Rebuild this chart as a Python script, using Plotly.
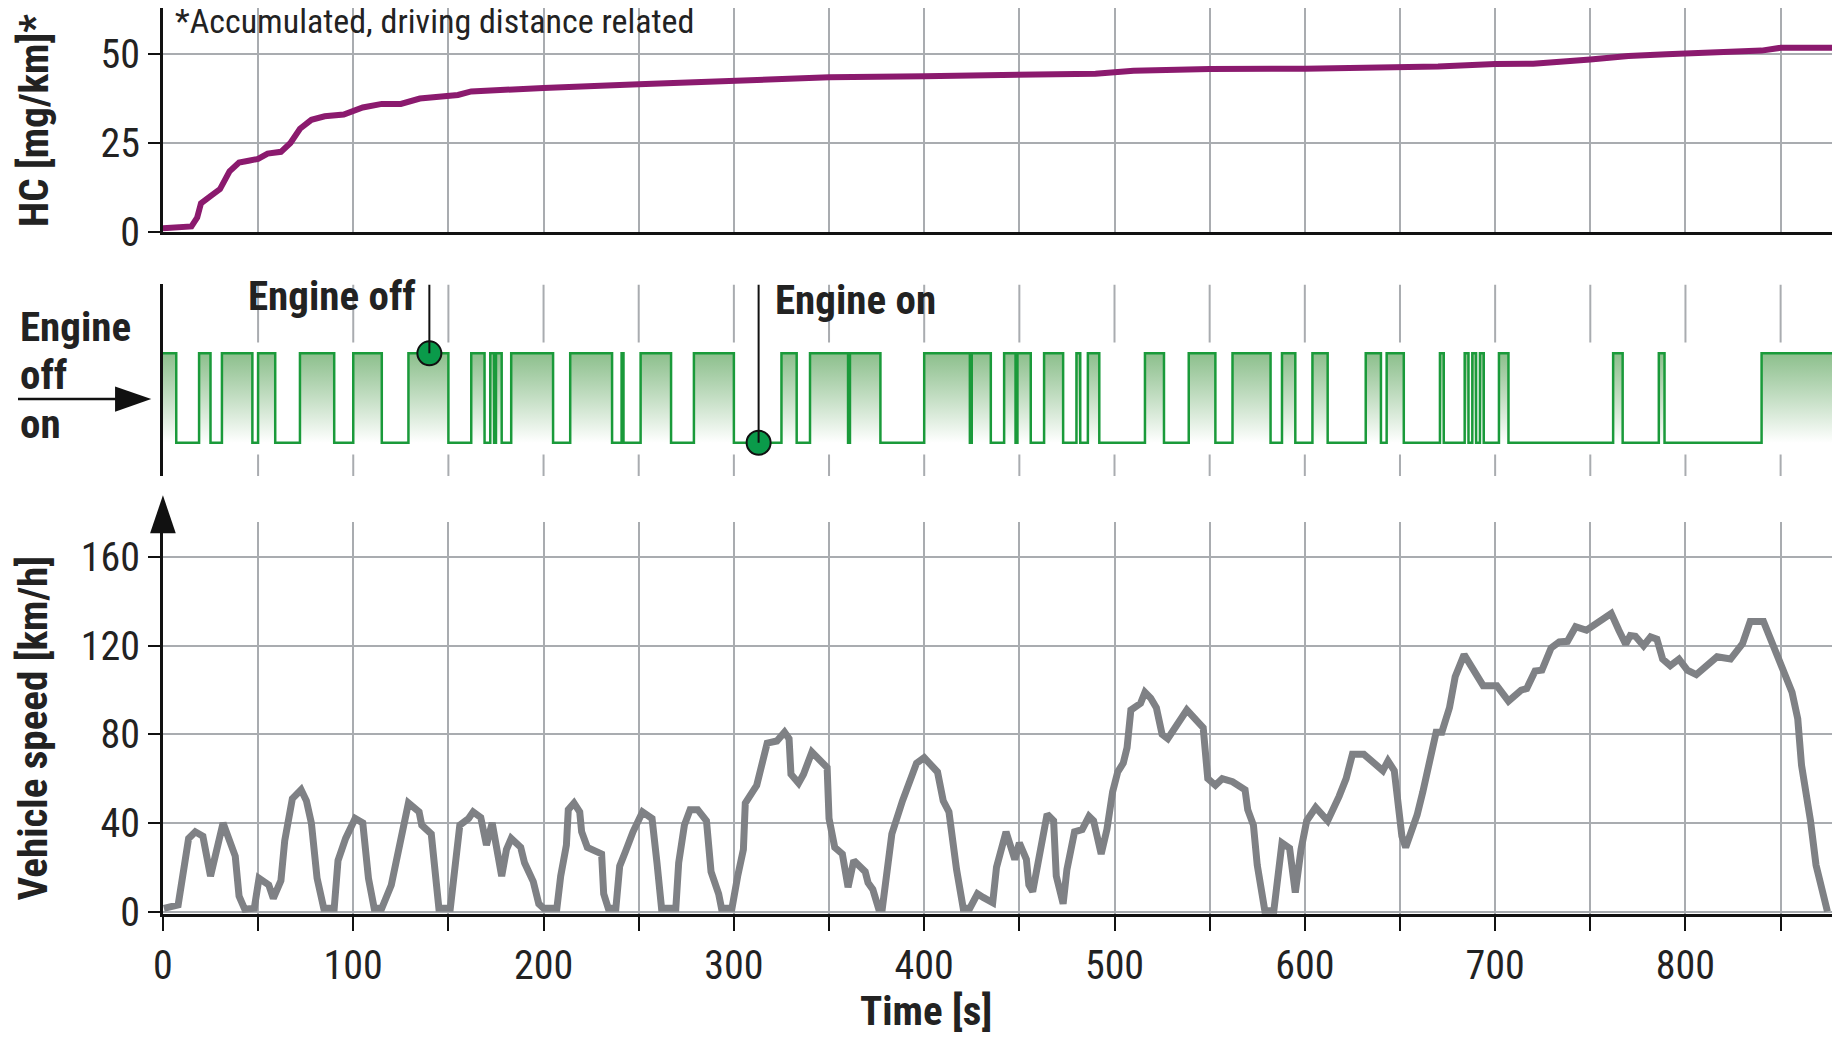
import plotly.graph_objects as go

# ---------------- data ----------------
hc_t = [0, 15, 18, 20, 25, 30, 35, 40, 45, 50, 55, 62, 67, 72, 78, 85, 95, 105, 115, 125, 135, 145, 155, 162, 180,
        200, 250, 300, 320, 350, 400, 450, 490, 510, 550, 600, 650, 670, 700, 720, 750, 770, 790, 830, 840, 850, 878]
hc_v = [1, 1.5, 4, 8, 10, 12, 17, 19.5, 20, 20.5, 22, 22.5, 25, 29, 31.5, 32.5, 33, 35, 36, 36, 37.5, 38, 38.5, 39.5, 40,
        40.5, 41.5, 42.5, 43, 43.5, 43.8, 44, 44.5, 45.3, 45.8, 45.9, 46.3, 46.5, 47.2, 47.3, 48.5, 49.5, 50, 50.5, 51, 51.8, 51.8]

engine_off_intervals = [(0, 7), (19, 25), (31, 47), (50, 59), (72, 90), (100, 115), (129, 150), (162, 169), (172, 174),
                        (175, 178), (183, 205), (214, 236), (241, 242), (251, 267), (279, 300), (325, 333), (340, 360),
                        (361, 377), (400, 424), (425, 435), (442, 448), (449, 456), (463, 473), (480, 482), (486, 492),
                        (516, 526), (539, 553), (562, 582), (588, 595), (604, 612), (632, 640), (643, 652), (671, 673),
                        (684, 686), (688, 690), (692, 694), (702, 707), (762, 767), (786, 789), (840, 878)]

sp_t = [0.5, 8, 13.5, 17, 21, 25, 31.6, 38, 40, 43, 48, 50.5, 55.6, 58, 62, 64, 68, 72.6, 75.4, 78, 81, 84.5, 90, 92, 96,
        101, 105, 108, 111, 115, 120, 126, 129, 134.6, 136, 141, 143, 145, 151, 154, 156, 160.6, 163, 167, 170, 173, 176.5,
        178, 180.5, 183, 188, 190, 194.6, 197.5, 200, 207, 209, 212, 213, 216, 219, 220, 223, 230.5, 231.6, 234, 238, 240,
        243, 247, 252, 257, 259.6, 262, 269.5, 271, 274, 277, 281, 285.6, 288, 292, 293.5, 299, 302, 305, 306, 312, 317.5,
        322.6, 326.6, 329, 330, 334, 336.6, 341, 349, 350, 353, 357, 360, 363, 369, 370.5, 373, 376, 378, 383, 388.6, 389.5,
        396, 400, 407, 410, 413, 417, 420.5, 424, 428, 431, 436, 438, 443, 447.6, 450, 453.7, 455, 457, 461, 464.6, 468,
        469.4, 473, 475, 479, 483, 486.6, 489, 493, 496, 499, 501.7, 504.6, 506.6, 508.6, 513.7, 516, 519, 522, 525, 528,
        538, 546.6, 549, 553, 556.6, 562, 568.6, 570, 573, 575, 577, 579, 583.7, 588, 592, 595, 598, 601, 605.7, 612, 618,
        621.7, 625, 631, 641, 643.7, 647, 651, 653, 659, 662, 666.6, 669, 672, 676, 679, 683.7, 693.7, 700.9, 707, 713.7,
        716.6, 721, 724.6, 729.4, 733.7, 738, 742.3, 748, 756.6, 761, 765, 768.6, 771, 773.7, 778, 781.7, 785, 788, 792,
        796.6, 801, 805.7, 816.6, 823.7, 830, 834, 841, 849.7, 856, 859, 861, 865.7, 868.6, 874.6]
sp_v = [1.4, 3, 33, 36, 34, 16, 40, 25, 7, 1, 1.5, 15, 12, 6, 14, 32, 51, 55, 50, 40, 15, 1.5, 1.5, 23, 33,
        42, 40, 15, 1.5, 1.5, 12, 36, 49, 45, 39, 35, 15, 1.5, 1.5, 26, 39, 42, 45, 42.5, 30, 40, 25,
        16, 28, 33, 29, 22, 13.5, 3.5, 1.5, 1.5, 16, 30, 46, 49, 45, 36, 29, 26, 8, 1.5, 1.5, 20.5,
        27, 36, 45, 42, 22, 1.5, 1.5, 22, 39, 46, 46, 41, 18, 8, 1.5, 1.5, 16, 28, 49, 57, 76,
        77, 81, 78, 62, 58, 62, 72, 65, 42, 29, 26, 11, 23, 18, 13, 10, 1.5, 1.5, 35, 50, 52,
        67, 69.5, 63, 50, 45, 19, 1.5, 1.5, 8, 6.4, 4, 20, 36, 23.5, 31, 23.5, 12, 9, 26, 44, 41,
        16, 3.5, 19, 36, 37, 43, 41, 26, 37, 54, 63, 67, 74, 91, 94, 99, 96.4, 92, 80, 78,
        91, 83, 60, 57, 60, 58.6, 55, 46, 39, 21, 10, 0.3, 0.3, 31, 28.6, 8.6, 28, 41, 47, 41, 52,
        60, 71, 71, 63.6, 68, 63.6, 34, 29, 43.6, 54, 70, 81, 81, 92, 106, 116, 102, 102, 95, 100,
        100.7, 108.6, 109, 119, 121.7, 122, 128.6, 127, 132, 134.6, 127, 120.7, 124.6, 124.3, 120, 124, 123, 114, 111,
        114, 109, 107, 115, 114, 121, 131, 131, 113, 99, 87, 66, 41, 21, 0]

x_tick_vals = [0, 50, 100, 150, 200, 250, 300, 350, 400, 450, 500, 550, 600, 650, 700, 750, 800, 850]
x_tick_text = ["0", "", "100", "", "200", "", "300", "", "400", "", "500", "", "600", "", "700", "", "800", ""]
hc_ticks = [0, 25, 50]
sp_ticks = [0, 40, 80, 120, 160]

# build step series
eng_t, eng_s = [], []
prev = 0
for a, b in engine_off_intervals:
    if a > prev:
        eng_t += [prev, a]
        eng_s += [0, 0]
    eng_t += [a, b]
    eng_s += [1, 1]
    prev = b
if prev < 878:
    eng_t += [prev, 878]
    eng_s += [0, 0]

W, H = 1824, 1040
def px(xd):  # reference display x (1568 wide) -> paper
    return min(1.0, max(0.0, (xd * 1840 / 1568 - 8) / W))
def py(yd):  # reference display y (900 high) -> paper
    return min(1.0, max(0.0, 1 - (yd * 1056 / 900 - 8) / H))

FONT = "Liberation Sans Narrow, Roboto Condensed, DejaVu Sans Condensed, Arial Narrow, sans-serif"
GRID = "#a9acb0"
XR = [0, 877]
XD = [px(131), 1.0]

fig = go.Figure()
fig.add_trace(go.Scatter(x=hc_t, y=hc_v, mode="lines", line=dict(color="#8b1a6e", width=6),
                         xaxis="x", yaxis="y", showlegend=False))
fig.add_trace(go.Scatter(x=eng_t, y=eng_s, mode="lines", line=dict(color="#1a9a3a", width=2.5),
                         fill="tozeroy",
                         fillgradient=dict(type="vertical",
                                           colorscale=[[0, "rgba(255,255,255,0.9)"], [1, "rgba(120,180,120,0.85)"]]),
                         xaxis="x2", yaxis="y2", showlegend=False))
fig.add_trace(go.Scatter(x=[140, 313], y=[1, 0], mode="markers",
                         marker=dict(size=24, color="#0a9a4a", line=dict(color="#111", width=2)),
                         xaxis="x2", yaxis="y2", showlegend=False))
fig.add_trace(go.Scatter(x=sp_t, y=sp_v, mode="lines", line=dict(color="#7f8185", width=7),
                         xaxis="x3", yaxis="y3", showlegend=False))

tickfont = dict(family=FONT, size=40, color="#222")
common_x = dict(range=XR, domain=XD, tickvals=x_tick_vals, showgrid=True, gridcolor=GRID, gridwidth=2,
                zeroline=False, showline=True, linecolor="#111", linewidth=3)
fig.update_layout(
    width=W, height=H, margin=dict(l=0, r=0, t=0, b=0),
    paper_bgcolor="white", plot_bgcolor="white",
    xaxis=dict(**common_x, anchor="y", showticklabels=False, ticks=""),
    yaxis=dict(range=[0, 63], domain=[py(202), py(5)], tickvals=hc_ticks, ticks="outside", ticklen=12, tickwidth=2,
               tickcolor="#111", tickfont=tickfont, showgrid=True, gridcolor=GRID, gridwidth=2,
               zeroline=False, showline=True, linecolor="#111", linewidth=3),
    xaxis2=dict(range=XR, domain=XD, anchor="y2", showgrid=False, showticklabels=False, ticks="",
                zeroline=False, showline=False),
    yaxis2=dict(range=[-0.37, 1.77], domain=[py(415), py(248)], showgrid=False, showticklabels=False, ticks="",
                zeroline=False, showline=True, linecolor="#111", linewidth=3),
    xaxis3=dict(**common_x, anchor="y3", ticktext=x_tick_text, ticks="outside", ticklen=14, tickwidth=2,
                tickcolor="#111", tickfont=tickfont),
    yaxis3=dict(range=[-1, 176], domain=[py(797), py(455)], tickvals=sp_ticks, ticks="outside", ticklen=12,
                tickwidth=2, tickcolor="#111", tickfont=tickfont, showgrid=True, gridcolor=GRID, gridwidth=2,
                zeroline=False, showline=True, linecolor="#111", linewidth=3),
)

# middle panel grid segments
for gx in x_tick_vals[1:]:
    for y0, y1 in [(1.12, 1.77), (-0.37, -0.13)]:
        fig.add_shape(type="line", xref="x2", yref="y2", x0=gx, x1=gx, y0=y0, y1=y1,
                      line=dict(color=GRID, width=2), layer="below")

# leader lines
fig.add_shape(type="line", xref="x2", yref="y2", x0=140, x1=140, y0=1, y1=1.77, line=dict(color="#111", width=2))
fig.add_shape(type="line", xref="x2", yref="y2", x0=313, x1=313, y0=0, y1=1.77, line=dict(color="#111", width=2))

# engine arrow on left
ya = py(348)
fig.add_shape(type="line", xref="paper", yref="paper", x0=px(4), x1=px(100), y0=ya, y1=ya,
              line=dict(color="#111", width=2.5))
fig.add_shape(type="path", xref="paper", yref="paper",
              path=f"M {px(90)} {py(337)} L {px(121)} {ya} L {px(90)} {py(359)} Z", fillcolor="#111",
              line=dict(width=0))
# speed axis arrow
fig.add_shape(type="path", xref="paper", yref="paper",
              path=f"M {px(120)} {py(465)} L {px(131)} {py(432)} L {px(142)} {py(465)} Z", fillcolor="#111",
              line=dict(width=0))

bold = dict(family=FONT, size=41, color="#222")
ann = [
    dict(text="*Accumulated, driving distance related", x=px(140), y=py(18), xanchor="left", yanchor="middle",
         font=dict(family=FONT, size=34, color="#222")),
    dict(text="<b>HC [mg/km]*</b>", x=px(20), y=py(105), textangle=-90, xanchor="center", yanchor="middle", font=bold),
    dict(text="<b>Vehicle speed [km/h]</b>", x=px(20), y=py(635), textangle=-90, xanchor="center", yanchor="middle",
         font=bold),
    dict(text="<b>Time [s]</b>", x=px(785), y=py(882), xanchor="center", yanchor="middle", font=bold),
    dict(text="<b>Engine</b>", x=px(5), y=py(285), xanchor="left", yanchor="middle", font=bold),
    dict(text="<b>off</b>", x=px(5), y=py(327), xanchor="left", yanchor="middle", font=bold),
    dict(text="<b>on</b>", x=px(5), y=py(370), xanchor="left", yanchor="middle", font=bold),
]
for a in ann:
    fig.add_annotation(xref="paper", yref="paper", showarrow=False, **a)
fig.add_annotation(xref="x2", yref="y2", x=134, y=1.64, text="<b>Engine off</b>", xanchor="right",
                   yanchor="middle", showarrow=False, font=bold)
fig.add_annotation(xref="x2", yref="y2", x=320.7, y=1.6, text="<b>Engine on</b>", xanchor="left",
                   yanchor="middle", showarrow=False, font=bold)

fig.write_html("out.html")
